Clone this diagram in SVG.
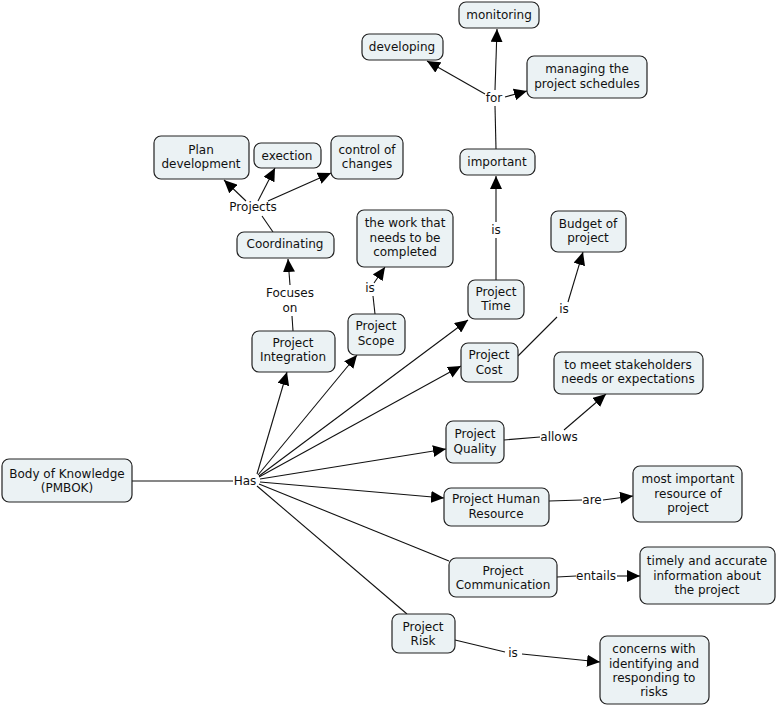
<svg xmlns="http://www.w3.org/2000/svg" width="778" height="706" viewBox="0 0 778 706">
<style>
.n rect{fill:#ebf2f4;stroke:#222;stroke-width:1.2}
text{font-family:"DejaVu Sans",Verdana,sans-serif;font-size:12px;fill:#111;text-anchor:middle}
.c line{stroke:#111;stroke-width:1.1}
.a{marker-end:url(#ah)}
</style>
<defs>
<marker id="ah" markerUnits="userSpaceOnUse" markerWidth="14" markerHeight="12" refX="13" refY="6" orient="auto"><path d="M0,0 L13,6 L0,12 z" fill="#000"/></marker>
</defs>
<rect width="778" height="706" fill="#fff"/>
<g id="connectors" class="c">
<line x1="132" y1="481" x2="233" y2="481"/>
<line class="a" x1="257" y1="474" x2="287" y2="372"/>
<line class="a" x1="258" y1="475" x2="357" y2="355"/>
<line class="a" x1="259" y1="476" x2="468" y2="320"/>
<line class="a" x1="259" y1="477" x2="461" y2="366"/>
<line class="a" x1="260" y1="479" x2="446" y2="449"/>
<line class="a" x1="260" y1="482" x2="444" y2="498"/>
<line x1="259" y1="484" x2="449" y2="561"/>
<line x1="257" y1="486" x2="407" y2="614"/>
<line x1="293" y1="331" x2="292" y2="316"/>
<line class="a" x1="290" y1="285" x2="288" y2="259"/>
<line x1="273" y1="232" x2="262" y2="216"/>
<line class="a" x1="246" y1="201" x2="224" y2="180"/>
<line class="a" x1="258" y1="201" x2="275" y2="168"/>
<line class="a" x1="268" y1="201" x2="331" y2="173"/>
<line x1="375" y1="314" x2="373" y2="296"/>
<line class="a" x1="374" y1="283" x2="385" y2="267"/>
<line x1="496" y1="280" x2="496" y2="238"/>
<line class="a" x1="496" y1="222" x2="496" y2="176"/>
<line x1="496" y1="149" x2="495" y2="106"/>
<line class="a" x1="485" y1="94" x2="427" y2="61"/>
<line class="a" x1="495" y1="90" x2="497" y2="29"/>
<line class="a" x1="505" y1="97" x2="527" y2="91"/>
<line x1="518" y1="356" x2="557" y2="317"/>
<line class="a" x1="568" y1="302" x2="583" y2="252"/>
<line x1="504" y1="440" x2="540" y2="437"/>
<line class="a" x1="564" y1="430" x2="606" y2="394"/>
<line x1="549" y1="501" x2="582" y2="500"/>
<line class="a" x1="603" y1="500" x2="633" y2="496"/>
<line x1="557" y1="577" x2="576" y2="576"/>
<line class="a" x1="617" y1="576" x2="640" y2="576"/>
<line x1="455" y1="640" x2="505" y2="652"/>
<line class="a" x1="522" y1="654" x2="600" y2="662"/>
</g>
<g id="lbl-has"><text x="245" y="485">Has</text></g>
<g id="lbl-projects"><text x="253" y="211">Projects</text></g>
<g id="lbl-focuses"><text x="290" y="297">Focuses</text><text x="290" y="312">on</text></g>
<g id="lbl-is-scope"><text x="370" y="292">is</text></g>
<g id="lbl-is-time"><text x="496" y="234">is</text></g>
<g id="lbl-for"><text x="494" y="102">for</text></g>
<g id="lbl-is-cost"><text x="564" y="313">is</text></g>
<g id="lbl-allows"><text x="559" y="441">allows</text></g>
<g id="lbl-are"><text x="592" y="504">are</text></g>
<g id="lbl-entails"><text x="596" y="580">entails</text></g>
<g id="lbl-is-risk"><text x="513" y="657">is</text></g>
<g id="body" class="n"><rect x="2" y="459" width="130" height="43" rx="7"/><text x="67" y="478">Body of Knowledge</text><text x="67" y="492">(PMBOK)</text></g>
<g id="integration" class="n"><rect x="252" y="331" width="83" height="41" rx="7"/><text x="293" y="347">Project</text><text x="293" y="361">Integration</text></g>
<g id="scope" class="n"><rect x="348" y="314" width="57" height="41" rx="7"/><text x="376" y="330">Project</text><text x="376" y="345">Scope</text></g>
<g id="time" class="n"><rect x="468" y="280" width="56" height="39" rx="7"/><text x="496" y="296">Project</text><text x="496" y="310">Time</text></g>
<g id="cost" class="n"><rect x="461" y="343" width="57" height="39" rx="7"/><text x="489" y="359">Project</text><text x="489" y="374">Cost</text></g>
<g id="quality" class="n"><rect x="446" y="421" width="58" height="42" rx="7"/><text x="475" y="438">Project</text><text x="475" y="453">Quality</text></g>
<g id="human" class="n"><rect x="444" y="488" width="105" height="38" rx="7"/><text x="496" y="503">Project Human</text><text x="496" y="518">Resource</text></g>
<g id="communication" class="n"><rect x="449" y="558" width="108" height="39" rx="7"/><text x="503" y="575">Project</text><text x="503" y="589">Communication</text></g>
<g id="risk" class="n"><rect x="392" y="614" width="63" height="39" rx="7"/><text x="423" y="631">Project</text><text x="423" y="645">Risk</text></g>
<g id="coordinating" class="n"><rect x="237" y="232" width="97" height="26" rx="7"/><text x="285" y="248">Coordinating</text></g>
<g id="plan" class="n"><rect x="154" y="136" width="95" height="43" rx="7"/><text x="201" y="154">Plan</text><text x="201" y="168">development</text></g>
<g id="exection" class="n"><rect x="254" y="143" width="67" height="25" rx="7"/><text x="287" y="160">exection</text></g>
<g id="control" class="n"><rect x="331" y="136" width="72" height="43" rx="7"/><text x="367" y="154">control of</text><text x="367" y="168">changes</text></g>
<g id="work" class="n"><rect x="357" y="210" width="96" height="57" rx="7"/><text x="405" y="227">the work that</text><text x="405" y="242">needs to be</text><text x="405" y="256">completed</text></g>
<g id="important" class="n"><rect x="460" y="149" width="75" height="26" rx="7"/><text x="497" y="166">important</text></g>
<g id="developing" class="n"><rect x="362" y="34" width="81" height="26" rx="7"/><text x="402" y="51">developing</text></g>
<g id="monitoring" class="n"><rect x="459" y="2" width="80" height="26" rx="7"/><text x="499" y="19">monitoring</text></g>
<g id="managing" class="n"><rect x="527" y="56" width="120" height="42" rx="7"/><text x="587" y="73">managing the</text><text x="587" y="88">project schedules</text></g>
<g id="budget" class="n"><rect x="551" y="211" width="75" height="41" rx="7"/><text x="588" y="228">Budget of</text><text x="588" y="242">project</text></g>
<g id="stakeholders" class="n"><rect x="554" y="352" width="149" height="42" rx="7"/><text x="628" y="369">to meet stakeholders</text><text x="628" y="383">needs or expectations</text></g>
<g id="resource" class="n"><rect x="633" y="466" width="109" height="56" rx="7"/><text x="688" y="483">most important</text><text x="688" y="498">resource of</text><text x="688" y="512">project</text></g>
<g id="timely" class="n"><rect x="640" y="547" width="135" height="57" rx="7"/><text x="707" y="565">timely and accurate</text><text x="707" y="580">information about</text><text x="707" y="594">the project</text></g>
<g id="concerns" class="n"><rect x="600" y="636" width="109" height="68" rx="7"/><text x="654" y="653">concerns with</text><text x="654" y="668">identifying and</text><text x="654" y="682">responding to</text><text x="654" y="696">risks</text></g>
</svg>
